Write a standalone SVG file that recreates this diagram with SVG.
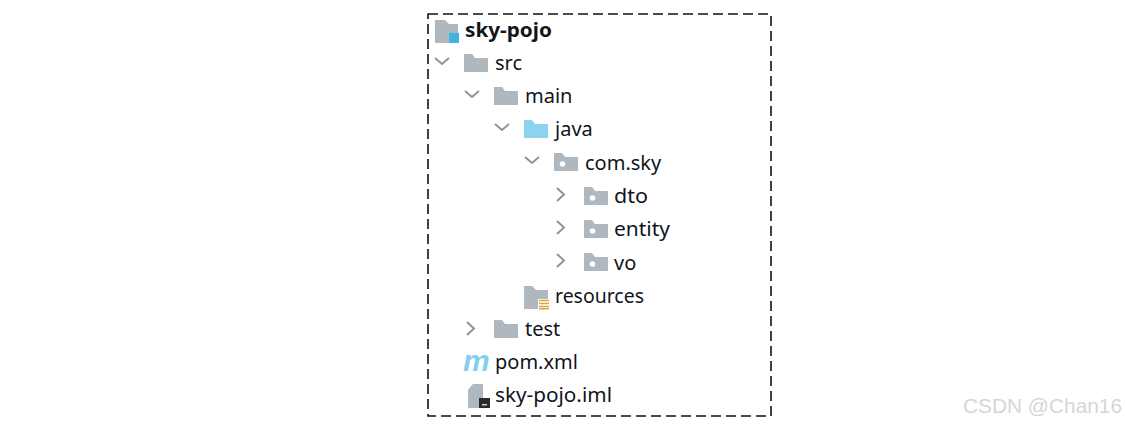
<svg xmlns="http://www.w3.org/2000/svg" width="1125" height="426" viewBox="0 0 1125 426">
<style>
.t{font-family:"Noto Sans","Open Sans","Liberation Sans",sans-serif;font-size:20px;fill:#10151c}
.b{font-weight:700}
.c{fill:none;stroke:#8f9498;stroke-width:2}
.g{fill:#afb8bf}
.h{fill:#fff}
</style>
<defs>
<path id="f" d="M0 0H8L11 4H24V18H0Z"/>
<g id="p"><path class="g" d="M0 0H8L11 4H24V18H0Z"/><circle class="h" cx="8.500" cy="11" r="2.800"/></g>
<path id="d" class="c" d="M0 0L7 6L14 0"/>
<path id="r" class="c" d="M0 0L7 6.500L0 13"/>
</defs>
<rect width="1125" height="426" fill="#fff"/>
<g id="frame"><rect x="428" y="14" width="343" height="402" fill="none" stroke="#111" stroke-width="1.600" stroke-dasharray="10 5"/></g>
<g id="connectors"></g>
<g id="sky-pojo"><path class="g" d="M435 20H445L449 24H458V33H449V43H435Z"/><rect x="449" y="33" width="10" height="10" fill="#3eb4e2"/><text class="t b" x="465" y="37" textLength="87" lengthAdjust="spacingAndGlyphs">sky-pojo</text></g>
<g id="src"><use href="#d" x="435" y="58"/><use href="#f" class="g" x="464" y="54"/><text class="t" x="495" y="70">src</text></g>
<g id="main"><use href="#d" x="465" y="91"/><use href="#f" class="g" x="494" y="87"/><text class="t" x="525" y="103">main</text></g>
<g id="java"><use href="#d" x="495" y="124"/><use href="#f" x="524" y="120" fill="#8dd3ef"/><text class="t" x="555" y="136">java</text></g>
<g id="com.sky"><use href="#d" x="525" y="157"/><use href="#p" x="554" y="153"/><text class="t" x="585" y="170">com.sky</text></g>
<g id="dto"><use href="#r" x="557" y="188"/><use href="#p" x="584" y="187"/><text class="t" x="614" y="203" textLength="34" lengthAdjust="spacingAndGlyphs">dto</text></g>
<g id="entity"><use href="#r" x="557" y="221"/><use href="#p" x="584" y="220"/><text class="t" x="614" y="236" textLength="56" lengthAdjust="spacingAndGlyphs">entity</text></g>
<g id="vo"><use href="#r" x="557" y="254"/><use href="#p" x="584" y="253"/><text class="t" x="614" y="270">vo</text></g>
<g id="resources"><path class="g" d="M524 286H532L536 290H548V299H538V309H524Z"/><path d="M539 300.500H549M539 303.500H549M539 306.500H549M539 308.800H549" stroke="#e0a542" stroke-width="1.500" fill="none"/><text class="t" x="555" y="303" textLength="89" lengthAdjust="spacingAndGlyphs">resources</text></g>
<g id="test"><use href="#r" x="467" y="322"/><use href="#f" class="g" x="494" y="320"/><text class="t" x="525" y="336">test</text></g>
<g id="pom.xml"><text x="463" y="371" font-family="Liberation Sans,sans-serif" font-size="30" font-weight="700" font-style="italic" fill="#84cfee">m</text><text class="t" x="495" y="369">pom.xml</text></g>
<g id="sky-pojo.iml"><path class="g" d="M473 384H483V398H479V408H468V390Z"/><rect x="479" y="398" width="11" height="10" fill="#2b2b2b"/><rect x="482" y="404" width="5" height="1.500" fill="#ccc"/><text class="t" x="495" y="402" textLength="117" lengthAdjust="spacingAndGlyphs">sky-pojo.iml</text></g>
<g id="watermark"><text x="963" y="413" font-family="Liberation Sans,sans-serif" font-size="20" fill="#d6d6d6" textLength="159" lengthAdjust="spacingAndGlyphs">CSDN @Chan16</text></g>
</svg>
